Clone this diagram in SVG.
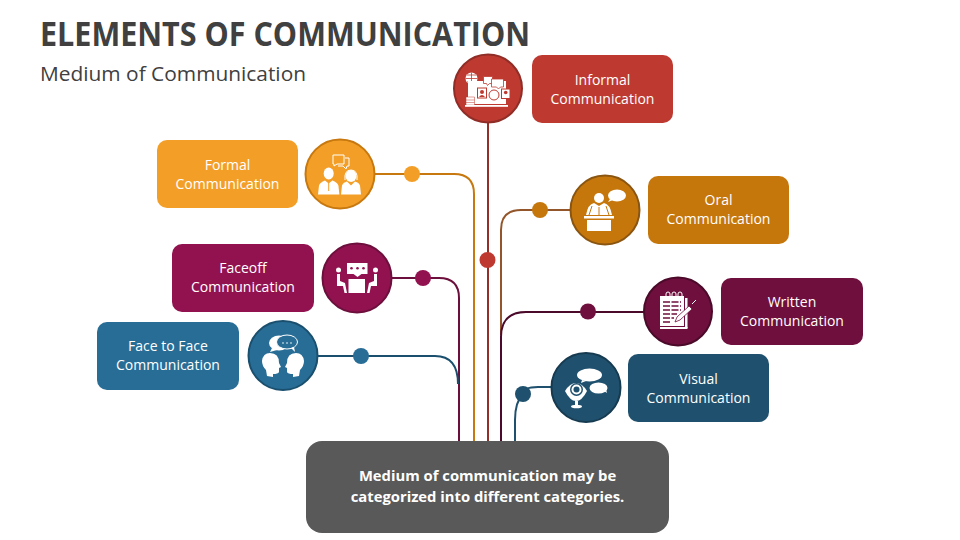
<svg xmlns="http://www.w3.org/2000/svg" width="960" height="540" viewBox="0 0 960 540">
<style>
text{font-family:"Open Sans","Noto Sans","Liberation Sans",sans-serif}
.l{font-size:14px;font-weight:500;fill:#fff;text-anchor:middle}
.m{font-size:14.800px;font-weight:700;fill:#fff;text-anchor:middle}
.c{fill:none;stroke-width:2}
.n{stroke-width:2}
.w{fill:#fff}
.o{fill:none;stroke:#fff;stroke-width:1}
</style>
<rect width="960" height="540" fill="#fff"/>
<text id="title" x="40" y="46" font-size="34.500" font-weight="700" fill="#404040" textLength="490" lengthAdjust="spacingAndGlyphs">ELEMENTS OF COMMUNICATION</text>
<text id="subtitle" x="40" y="81" font-size="20" fill="#404040" textLength="266" lengthAdjust="spacingAndGlyphs">Medium of Communication</text>
<g id="connectors">
<path class="c" stroke="#C7780F" d="M375 174H454Q474 174 474 194V441"/>
<path class="c" stroke="#6D0F3C" d="M391 278H439Q459 278 459 298V441"/>
<path class="c" stroke="#1A4F6E" d="M317 356H435Q458 356 458 384"/>
<path class="c" stroke="#93562A" d="M570 210H521Q501 210 501 230V335"/>
<path class="c" stroke="#4C0A2A" d="M644 312H526Q501 312 501 337V441"/>
<path class="c" stroke="#1F516E" d="M551 387H538Q523 387 523 394M523 394Q515 402 515 420V444"/>
<path class="c" stroke="#932F28" d="M488 123V441"/>
<circle cx="412" cy="174" r="8" fill="#F39F27"/>
<circle cx="423" cy="278" r="8" fill="#921250"/>
<circle cx="361" cy="356" r="8" fill="#276D96"/>
<circle cx="540" cy="210" r="8" fill="#C6770C"/>
<circle cx="588" cy="311.500" r="8" fill="#6E0F3D"/>
<circle cx="523" cy="394" r="8" fill="#1F516E"/>
<circle cx="487.500" cy="260" r="8" fill="#BE3A31"/>
</g>
<g id="informal">
<rect x="532" y="55" width="141" height="68" rx="10" fill="#BE3A31"/>
<text class="l" x="602.500" y="85">Informal</text><text class="l" x="602.500" y="104">Communication</text>
<circle class="n" cx="488" cy="88.500" r="34" fill="#BE3A31" stroke="#8F2D26"/>
<circle cx="471.500" cy="78.500" r="6" class="w"/><path fill="none" stroke="#BE3A31" stroke-width=".8" d="M465.500 78.500h12M471.500 72.500v12M467 75h9M467 82h9"/>
<rect x="468" y="81" width="38" height="23" class="w"/>
<path class="w" stroke="#BE3A31" stroke-width=".8" d="M483.500 76.500h9v7h-3l-2 2-1-2h-3z"/>
<path class="w" stroke="#BE3A31" stroke-width=".8" d="M491.500 79h12v8h-3l-2 2-2-2h-5z"/>
<rect x="477.500" y="88" width="9" height="10" class="w" stroke="#BE3A31"/><circle cx="482" cy="92" r="2" fill="#BE3A31"/><path d="M479 97q3-4 6 0z" fill="#BE3A31"/>
<circle cx="494" cy="95" r="5" class="w" stroke="#BE3A31"/>
<rect x="501.500" y="89" width="8.500" height="9.500" class="w" stroke="#BE3A31"/><circle cx="505.700" cy="92.500" r="1.800" fill="#BE3A31"/>
<path class="w" stroke="#BE3A31" stroke-width=".5" d="M466 97h8.500v8H466zM466 100h8.500M466 102.500h8.500"/><rect x="465" y="105" width="43" height="1.800" class="w"/>
</g>
<g id="formal">
<rect x="157" y="140" width="141" height="68" rx="10" fill="#F39F27"/>
<text class="l" x="227.500" y="170">Formal</text><text class="l" x="227.500" y="189">Communication</text>
<circle class="n" cx="340" cy="174" r="34.500" fill="#F39F27" stroke="#C7780F"/>
<path class="o" d="M333 155h11v9h-7l-3 2v-2h-1zM345 158h4v8h-2l-1 3-3-3h-5"/>
<ellipse cx="328.700" cy="173.500" rx="5" ry="6" class="w"/><path class="w" d="M318 194.500l1-9q1-3 6-5l3.700 3 3.700-3q5 2 6 5l1 9z"/>
<path stroke="#F39F27" d="M328.700 183v8"/>
<ellipse cx="351" cy="176" rx="5.500" ry="6" class="w"/><path fill="none" stroke="#fff" d="M345 180q-1-10 6-10t6 10"/><path class="w" d="M341 194.500l1-9q1-3 5-4l4 4 4-4q4 1 5 4l1 9z"/>
</g>
<g id="faceoff">
<rect x="172" y="244" width="142" height="68" rx="10" fill="#921250"/>
<text class="l" x="243" y="273">Faceoff</text><text class="l" x="243" y="292">Communication</text>
<circle class="n" cx="357" cy="278" r="34.500" fill="#921250" stroke="#6D0F3C"/>
<path class="w" d="M347 263h20.500v11h-6l-4 3-4-3h-6.500z"/>
<circle cx="351.500" cy="268.300" r="1.300" fill="#921250"/><circle cx="357.500" cy="268.300" r="1.300" fill="#921250"/><circle cx="363.500" cy="268.300" r="1.300" fill="#921250"/>
<rect x="348.500" y="279" width="16.500" height="14" class="w"/>
<circle cx="338.500" cy="270" r="2.500" class="w"/><circle cx="375.500" cy="270" r="2.500" class="w"/>
<path class="w" d="M337 274h3v7l5 2 2 10h-2.500l-1.500-7h-6zM377 274h-3v7l-5 2-2 10h2.500l1.500-7h6z"/>
</g>
<g id="facetoface">
<rect x="97" y="322" width="142" height="68" rx="10" fill="#276D96"/>
<text class="l" x="168" y="351">Face to Face</text><text class="l" x="168" y="370">Communication</text>
<circle class="n" cx="283" cy="355.500" r="34.500" fill="#276D96" stroke="#1A4F6E"/>
<ellipse cx="279" cy="343" rx="10" ry="7.500" class="w"/><path class="w" d="M272 348l-2 4 7-2z"/>
<ellipse cx="287" cy="342" rx="10.500" ry="7" fill="#276D96" stroke="#fff"/><path class="w" d="M291 348l4 4-1-5z"/>
<circle cx="283" cy="343" r=".8" class="w"/><circle cx="287" cy="343" r=".8" class="w"/><circle cx="291" cy="343" r=".8" class="w"/>
<path class="w" d="M270 353q9 0 9 10l2 4-2 1v4q-1 2-6 2v3l-6-1-1-6q-4-4-4-9 1-8 8-8zM296 353q-9 0-9 10l-2 4 2 1v4q1 2 6 2v3l6-1 1-6q4-4 4-9-1-8-8-8z"/>
</g>
<g id="oral">
<rect x="648" y="176" width="141" height="68" rx="10" fill="#C6770C"/>
<text class="l" x="718.500" y="205">Oral</text><text class="l" x="718.500" y="224">Communication</text>
<circle class="n" cx="605" cy="210" r="34.500" fill="#C6770C" stroke="#8A5510"/>
<circle cx="599" cy="198" r="5" class="w"/><ellipse cx="617" cy="195.500" rx="9" ry="6" class="w"/><path class="w" d="M610 199l-2 3 5-2z"/>
<path class="w" d="M586 215q2-11 8-12l5 3 5-3q6 1 8 12z"/>
<path fill="none" stroke="#C6770C" d="M589 215l3-9M609 215l-3-9M599 207v8"/>
<rect x="584" y="216" width="30" height="2.500" class="w"/><rect x="587" y="220" width="24" height="11" class="w"/>
</g>
<g id="written">
<rect x="721" y="278" width="142" height="67" rx="10" fill="#6E0F3D"/>
<text class="l" x="792" y="307">Written</text><text class="l" x="792" y="326">Communication</text>
<circle class="n" cx="678" cy="311.500" r="34" fill="#6E0F3D" stroke="#4C0A2A"/>
<rect x="660" y="296" width="24" height="30" class="w"/><rect x="685" y="298" width="2.500" height="30" class="w"/><rect x="660" y="327" width="27.500" height="2" class="w"/>
<path class="o" d="M666 297v-3a2 2 0 0 1 4 0v3M672 297v-3a2 2 0 0 1 4 0v3M678 297v-3a2 2 0 0 1 4 0v3"/>
<path stroke="#6E0F3D" stroke-width="1.300" stroke-dasharray="7 1.500" d="M663 302h18M663 306h18M663 310h18M663 314h14M663 318h11M663 322h8"/>
<path class="w" stroke="#6E0F3D" stroke-width=".8" d="M677 317l12-11 3 3-12 11-5 2z"/><path stroke="#fff" d="M692 304l4-4"/>
</g>
<g id="visual">
<rect x="628" y="354" width="141" height="68" rx="10" fill="#1F516E"/>
<text class="l" x="698.500" y="384">Visual</text><text class="l" x="698.500" y="403">Communication</text>
<circle class="n" cx="586" cy="387.500" r="34.500" fill="#1F516E" stroke="#163A50"/>
<ellipse cx="589.500" cy="375" rx="12.500" ry="6.500" class="w"/><path class="w" d="M582 380l-1 3 5-2z"/><ellipse cx="598.500" cy="388" rx="9" ry="5.500" class="w"/><path class="w" d="M604 391l3 2-1-4z"/>
<path class="w" d="M565 391q5-8 11-8t11 8q-5 10-11 10t-11-10z"/>
<circle cx="576.500" cy="389.500" r="6.500" fill="#1F516E"/><circle cx="576.500" cy="389.500" r="5" class="w"/><circle cx="576.500" cy="389.500" r="3" fill="#1F516E"/>
<rect x="575" y="401" width="3" height="5" class="w"/><ellipse cx="576.500" cy="406.500" rx="5.500" ry="1.800" class="w"/>
</g>
<g id="center">
<rect x="306" y="441" width="363" height="92" rx="16" fill="#595959"/>
<text class="m" x="487.500" y="481">Medium of communication may be</text>
<text class="m" x="487.500" y="502">categorized into different categories.</text>
</g>
</svg>
